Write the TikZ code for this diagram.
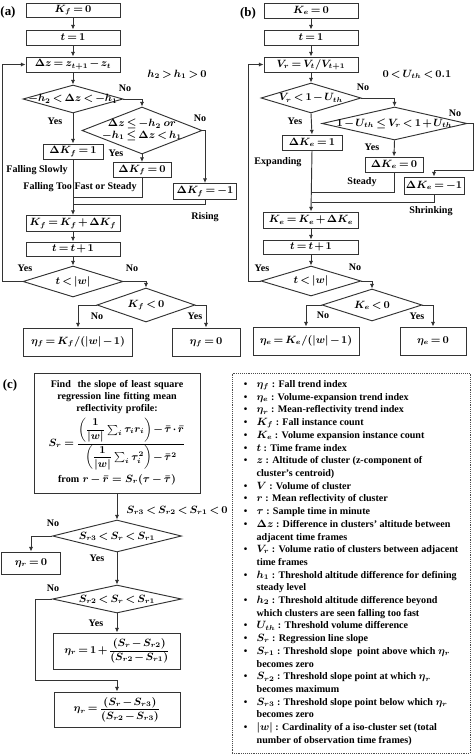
\documentclass[tikz,border=0pt]{standalone}
\usepackage{amsmath,amssymb}
\usepackage{fontspec}
\setmainfont{Liberation Serif}
\usetikzlibrary{positioning,arrows.meta,shapes.geometric}

\newcommand{\dtxt}[1]{\makebox[0pt]{#1}}
\newcommand{\legitem}{\makebox[11pt][l]{\textbullet}}
\newcommand{\legcont}{\hspace*{11pt}}
\newcommand{\tightmath}{\medmuskip=2mu plus 1mu\thickmuskip=3mu plus 2mu}

\begin{document}
\begin{tikzpicture}[
    x=0.03cm, y=-0.03cm,
    font=\fontsize{8.6}{10}\selectfont\bfseries\boldmath\tightmath,
    box/.style={rectangle, draw=black!80, line width=0.8pt, minimum width=2.82cm, minimum height=0.45cm, inner sep=1pt, fill=white},
    decision/.style={diamond, draw=black!80, line width=0.8pt, inner sep=0pt, fill=white},
    remark/.style={inner sep=0pt},
    panel/.style={inner sep=0pt, font=\fontsize{11}{12}\selectfont\bfseries},
    relation/.style={-{Latex[length=4pt,width=3.6pt]}, line width=0.8pt, draw=black!80},
    link/.style={line width=0.8pt, draw=black!80},
    legendbox/.style={rectangle, draw=black!70, densely dotted, line width=0.6pt, minimum width=7.14cm, minimum height=11.4cm, align=left, font=\fontsize{8.6}{10.85}\selectfont\bfseries\boldmath\tightmath}
]
    \useasboundingbox (0,0) rectangle (474,755);

    % --- (a) FALL TREND ---
    \node[panel] (tagA) at (8,12) {(a)};
    \node[box, minimum height=0.42cm] (KfZero) at (73,10) {$K_f = 0$};
    \node[box] (TimeA) at (73,37.5) {$t = 1$};
    \node[box] (DeltaZ) at (73,64.5) {$\Delta z = z_{t+1} - z_t$};
    \node[remark] (condA) at (177,74) {$h_2 > h_1 > 0$};
    \node[decision, minimum width=3cm, minimum height=0.84cm] (FallTest) at (73,99) {\dtxt{$-h_2 < \Delta z < -h_1$}};
    \node[decision, minimum width=3.6cm, minimum height=1.41cm] (SteadyTest) at (142,130.5)
        {\dtxt{\begin{tabular}{@{}c@{}}$\Delta z \leq -h_2\ or$\\ $-h_1 \leq \Delta z < h_1$\end{tabular}}};
    \node[box, minimum width=1.8cm] (IncKf) at (73,151.5) {$\Delta K_f = 1$};
    \node[box, minimum width=1.74cm] (KeepKf) at (142,170) {$\Delta K_f = 0$};
    \node[box, minimum width=1.89cm, minimum height=0.48cm] (DecKf) at (205,191.5) {$\Delta K_f = -1$};
    \node[box, minimum height=0.48cm] (SumKf) at (73,223.5) {$K_f = K_f + \Delta K_f$};
    \node[box, minimum height=0.42cm] (NextA) at (73,249) {$t = t + 1$};
    \node[decision, minimum width=3cm, minimum height=0.93cm] (LoopA) at (73,281.5) {\dtxt{$t < |w|$}};
    \node[decision, minimum width=2.94cm, minimum height=1.02cm] (SignKf) at (146,305) {\dtxt{$K_f < 0$}};
    \node[box, minimum width=3.27cm, minimum height=0.84cm] (EtaF) at (78,342) {$\eta_f = K_f/(|w| - 1)$};
    \node[box, minimum width=2.04cm, minimum height=0.84cm] (EtaFZero) at (206,342) {$\eta_f = 0$};

    \node[remark] (noA1) at (125,88) {No};
    \node[remark] (yesA1) at (55,121) {Yes};
    \node[remark] (noA2) at (200,118) {No};
    \node[remark] (yesA2) at (116,153) {Yes};
    \node[remark] (slowA) at (37,170) {Falling Slowly};
    \node[remark] (fastA) at (80,187) {Falling Too Fast or Steady};
    \node[remark] (riseA) at (205,217) {Rising};
    \node[remark] (yesA3) at (25,268) {Yes};
    \node[remark] (noA3) at (132,268) {No};
    \node[remark] (noA4) at (97,316) {No};
    \node[remark] (yesA4) at (195,316) {Yes};

    \coordinate (JoinA1) at (73,197);
    \coordinate (JoinA2) at (73,204);

    \draw[relation] (KfZero) -- (TimeA);
    \draw[relation] (TimeA) -- (DeltaZ);
    \draw[relation] (DeltaZ) -- (FallTest);
    \draw[relation] (FallTest) -- (IncKf);
    \draw[relation] (FallTest.east) -| (SteadyTest.north);
    \draw[relation] (SteadyTest) -- (KeepKf);
    \draw[relation] (SteadyTest.east) -| (DecKf.north);
    \draw[relation] (IncKf) -- (SumKf);
    \draw[link] (KeepKf.south) |- (JoinA1);
    \draw[link] (DecKf.south) |- (JoinA2);
    \draw[relation] (SumKf) -- (NextA);
    \draw[relation] (NextA) -- (LoopA);
    \draw[relation] (LoopA.west) -- ++(-20,0) |- (DeltaZ.west);
    \draw[relation] (LoopA.east) -| (SignKf.north);
    \draw[relation] (SignKf.west) -| (EtaF.north);
    \draw[relation] (SignKf.east) -| (EtaFZero.north);

    % --- (b) VOLUME EXPANSION TREND ---
    \node[panel] (tagB) at (248,13) {(b)};
    \node[box] (KeZero) at (311,10.5) {$K_e = 0$};
    \node[box] (TimeB) at (311,37.5) {$t = 1$};
    \node[box] (Ratio) at (311,64.5) {$V_r = V_t/V_{t+1}$};
    \node[remark] (condB) at (417,74) {$0 < U_{th} < 0.1$};
    \node[decision, minimum width=3cm, minimum height=0.9cm] (GrowTest) at (311,98) {\dtxt{$V_r < 1 - U_{th}$}};
    \node[decision, minimum width=4.35cm, minimum height=0.99cm] (FlatTest) at (394.5,123.5) {\dtxt{$1 - U_{th} \leq V_r < 1 + U_{th}$}};
    \node[box, minimum width=1.8cm] (IncKe) at (312,142.5) {$\Delta K_e = 1$};
    \node[box, minimum width=1.74cm] (KeepKe) at (394,164.5) {$\Delta K_e = 0$};
    \node[box, minimum width=1.8cm, minimum height=0.51cm] (DecKe) at (434,185.5) {$\Delta K_e = -1$};
    \node[box, minimum width=2.85cm, minimum height=0.48cm] (SumKe) at (311,220) {$K_e = K_e + \Delta K_e$};
    \node[box, minimum width=2.85cm, minimum height=0.42cm] (NextB) at (311,247) {$t = t + 1$};
    \node[decision, minimum width=3cm, minimum height=0.9cm] (LoopB) at (311,281) {\dtxt{$t < |w|$}};
    \node[decision, minimum width=3cm, minimum height=0.96cm] (SignKe) at (372,305) {\dtxt{$K_e < 0$}};
    \node[box, minimum width=3.18cm, minimum height=0.84cm] (EtaE) at (306,341) {$\eta_e = K_e/(|w| - 1)$};
    \node[box, minimum width=1.98cm, minimum height=0.84cm] (EtaEZero) at (433,341) {$\eta_e = 0$};

    \node[remark] (noB1) at (363,87) {No};
    \node[remark] (yesB1) at (295,121) {Yes};
    \node[remark] (noB2) at (455,113) {No};
    \node[remark] (yesB2) at (372,147) {Yes};
    \node[remark] (growB) at (278,162) {Expanding};
    \node[remark] (flatB) at (362,182) {Steady};
    \node[remark] (shrinkB) at (431,211) {Shrinking};
    \node[remark] (yesB3) at (262,268) {Yes};
    \node[remark] (noB3) at (355,267) {No};
    \node[remark] (noB4) at (323,315) {No};
    \node[remark] (yesB4) at (417,316) {Yes};

    \coordinate (TurnB) at (473,170);
    \coordinate (JoinB1) at (312,192);
    \coordinate (JoinB2) at (312,202);

    \draw[relation] (KeZero) -- (TimeB);
    \draw[relation] (TimeB) -- (Ratio);
    \draw[relation] (Ratio) -- (GrowTest);
    \draw[relation] (GrowTest.south) -- (IncKe.north);
    \draw[relation] (GrowTest.east) -| (FlatTest.north);
    \draw[relation] (FlatTest.south) -- (KeepKe.north);
    \draw[relation] (FlatTest.east) -| (TurnB) -| (DecKe.north);
    \draw[relation] (IncKe.south) -- (SumKe.north);
    \draw[link] (KeepKe.south) |- (JoinB1);
    \draw[link] (DecKe.south) |- (JoinB2);
    \draw[relation] (SumKe) -- (NextB);
    \draw[relation] (NextB) -- (LoopB);
    \draw[relation] (LoopB.west) -- ++(-12,0) |- (Ratio.west);
    \draw[relation] (LoopB.east) -| (SignKe.north);
    \draw[relation] (SignKe.west) -| (EtaE.north);
    \draw[relation] (SignKe.east) -| (EtaEZero.north);

    % --- (c) MEAN REFLECTIVITY TREND ---
    \node[panel] (tagC) at (10,385) {(c)};
    \node[box, minimum width=4.98cm, minimum height=3.6cm, text width=4.7cm, align=center] (Slope) at (117,433) {
        Find\ \ the slope of least square\\
        regression line fitting mean\\
        reflectivity profile:\\[3pt]
        $\displaystyle S_r = \frac{\left(\dfrac{1}{|w|}\sum_i \tau_i r_i\right) - \bar{\tau}\cdot\bar{r}}{\left(\dfrac{1}{|w|}\sum_i \tau_i^2\right) - \bar{\tau}^2}$\\[3pt]
        from $r - \bar{r} = S_r(\tau - \bar{\tau})$};
    \node[remark] (condC) at (177,510) {$S_{r3} < S_{r2} < S_{r1} < 0$};
    \node[decision, minimum width=3.87cm, minimum height=0.96cm] (OuterTest) at (117,536) {\dtxt{$S_{r3} < S_r < S_{r1}$}};
    \node[box, minimum width=1.77cm, minimum height=0.66cm] (EtaRZero) at (31,563) {$\eta_r = 0$};
    \node[decision, minimum width=3.87cm, minimum height=0.84cm] (InnerTest) at (117,599) {\dtxt{$S_{r2} < S_r < S_{r1}$}};
    \node[box, minimum width=3.81cm, minimum height=1.08cm] (EtaRHigh) at (117,651) {$\eta_r = 1 + \dfrac{(S_r - S_{r2})}{(S_{r2} - S_{r1})}$};
    \node[box, minimum width=3.78cm, minimum height=1.05cm] (EtaRLow) at (117,709.5) {$\eta_r = \dfrac{(S_r - S_{r3})}{(S_{r2} - S_{r3})}$};

    \node[remark] (noC1) at (53,523) {No};
    \node[remark] (yesC1) at (97,558) {Yes};
    \node[remark] (noC2) at (53,588) {No};
    \node[remark] (yesC2) at (96,623) {Yes};

    \coordinate (BackC) at (35,680);

    \draw[relation] (Slope) -- (OuterTest);
    \draw[relation] (OuterTest.west) -| (EtaRZero.north);
    \draw[relation] (OuterTest) -- (InnerTest);
    \draw[relation] (InnerTest) -- (EtaRHigh);
    \draw[relation] (InnerTest.west) -| (BackC) -| (EtaRLow.north);

    % --- SYMBOLS ---
    \node[legendbox] (Legend) at (351,563) {
        \legitem$\eta_f$ : Fall trend index\\
        \legitem$\eta_e$ : Volume-expansion trend index\\
        \legitem$\eta_r$ : Mean-reflectivity trend index\\
        \legitem$K_f$ : Fall instance count\\
        \legitem$K_e$ : Volume expansion instance count\\
        \legitem$t$ : Time frame index\\
        \legitem$z$ : Altitude of cluster (z-component of\\
        \legcont cluster's centroid)\\
        \legitem$V$ : Volume of cluster\\
        \legitem$r$ : Mean reflectivity of cluster\\
        \legitem$\tau$ : Sample time in minute\\
        \legitem$\Delta z$ : Difference in clusters' altitude between\\
        \legcont adjacent time frames\\
        \legitem$V_r$ : Volume ratio of clusters between adjacent\\
        \legcont time frames\\
        \legitem$h_1$ : Threshold altitude difference for defining\\
        \legcont steady level\\
        \legitem$h_2$ : Threshold altitude difference beyond\\
        \legcont which clusters are seen falling too fast\\
        \legitem$U_{th}$ : Threshold volume difference\\
        \legitem$S_r$ : Regression line slope\\
        \legitem$S_{r1}$ : Threshold slope\ \ point above which $\eta_r$\\
        \legcont becomes zero\\
        \legitem$S_{r2}$ : Threshold slope point at which $\eta_r$\\
        \legcont becomes maximum\\
        \legitem$S_{r3}$ : Threshold slope point below which $\eta_r$\\
        \legcont becomes zero\\
        \legitem$|w|$ : Cardinality of a iso-cluster set (total\\
        \legcont number of observation time frames)};

\end{tikzpicture}
\end{document}
